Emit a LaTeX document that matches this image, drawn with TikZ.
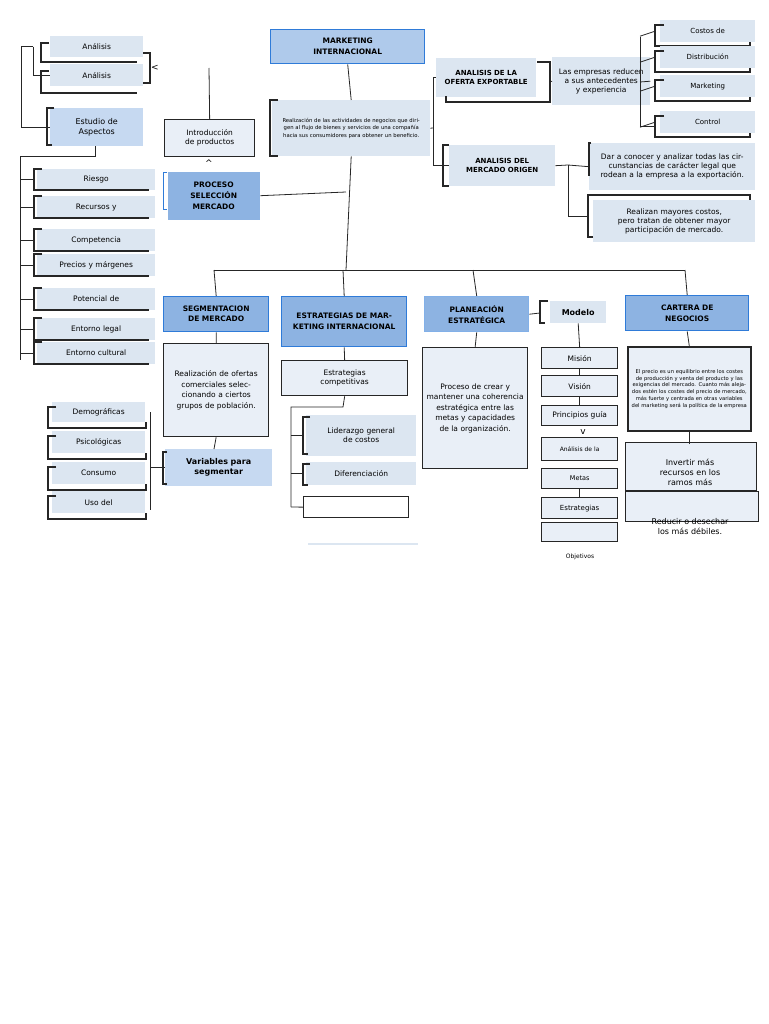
\documentclass[tikz,border=0pt]{standalone}
\usepackage{fontspec}
\setmainfont{DejaVu Sans}
\definecolor{lb}{HTML}{DCE6F1}
\definecolor{lb2}{HTML}{C6D9F1}
\definecolor{mb}{HTML}{8DB3E2}
\definecolor{bb}{HTML}{2F7BD8}
\definecolor{wb}{HTML}{E9EFF7}
\tikzset{
 lbox/.style={fill=lb,font=\fontsize{7.5}{9}\selectfont},
 lbox2/.style={fill=lb2,font=\fontsize{8}{10}\selectfont},
 mbox/.style={fill=mb,draw=bb,line width=1.4pt,font=\fontsize{7.5}{10}\selectfont\bfseries},
 wbox/.style={fill=wb,draw=black!85,line width=1.3pt,font=\fontsize{7.5}{9}\selectfont},
 ebox/.style={fill=white,draw=black!85,line width=1.3pt},
 ln/.style={draw=black!85,line width=0.8pt},
 br/.style={draw=black!85,line width=1.3pt}
}
\newcommand\B[7]{\pgfmathsetmacro\bw{#5-#3}\pgfmathsetmacro\bh{#6-#4}\pgfmathsetmacro\tw{#5-#3-6}%
\node[#1,anchor=north west,minimum width=\bw pt,minimum height=\bh pt,text width=\tw pt,inner xsep=3pt,inner ysep=1pt,align=center] (#2) at (#3,#4) {#7};}
\newcommand\Lb[4]{\draw[br] (#1+8,#2)--(#1,#2)--(#1,#4)--(#3,#4);}
\begin{document}
\begin{tikzpicture}[x=1pt,y=-1pt]
\useasboundingbox (0,0) rectangle (768,1024);
% top centre
\B{mbox,fill=mb!70,font=\fontsize{7.5}{11}\selectfont\bfseries}{mi}{270}{29}{424}{63}{MARKETING\\INTERNACIONAL}
\B{lbox,align=justify,font=\fontsize{5.3}{7.5}\selectfont}{def}{272}{100}{430}{156}{Realización de las actividades de negocios que dirigen al flujo de bienes y servicios de una compañía hacia sus consumidores para obtener un beneficio.}
\draw[br] (278,100)--(270,100)--(270,156)--(278,156);
% left
\B{lbox}{an1}{50}{36}{143}{57}{Análisis}
\B{lbox}{an2}{50}{64}{143}{86}{Análisis}
\Lb{41}{43}{137}{62}\Lb{41}{71}{137}{93}
\draw[br] (143,53)--(150,53)--(150,83)--(143,83);
\node[font=\fontsize{9}{9}\selectfont] (lt) at (155,68) {<};
\B{lbox2}{est}{50}{108}{143}{146}{Estudio de\\Aspectos}
\draw[br] (54,108)--(47,108)--(47,145)--(52,145);
\draw[ln] (an1.west)++(-17,0) coordinate (t1) -- ++(-12,0) |- (est.west);
\draw[ln] (t1) |- (an2.west);
\foreach \n/\t/\ya/\yb in {ri/Riesgo/169/190,re/Recursos y/196/218,co/Competencia/229/251,pr/Precios y márgenes/254/276,po/Potencial de/288/310,el/Entorno legal/318/340,ec/Entorno cultural/342/364}{
 \B{lbox}{\n}{37}{\ya}{155}{\yb}{\t}
 \Lb{34}{\ya}{149}{\yb}
}
\draw[ln] (est.south)++(-1,0) -- ++(0,10) -| (20,360);
\foreach \n in {ri,re,co,pr,po,el,ec}{\draw[ln] (20,0 |- \n.west) -- (34,0 |- \n.west);}
% intro / proceso
\B{wbox}{intro}{164}{119}{254}{156}{Introducción\\de productos}
\coordinate (itop) at (209,68);
\draw[ln] (itop) -- (intro.north);
\node[font=\fontsize{9}{9}\selectfont] (car) at (209,163) {\^{}};
\B{mbox,draw=none,font=\fontsize{7.5}{11}\selectfont\bfseries}{proc}{167}{171}{259}{219}{PROCESO\\SELECCIÓN\\MERCADO}
\draw[bb,line width=1pt] (167,173)--(163,173)--(163,210)--(167,210);
% main trunk
\coordinate (bus) at (346,270);
\draw[ln] (mi.south) -- (def.north);
\draw[ln] (def.south) -- (bus);
\draw[ln] (proc.east) -- (346,192);
% right top
\B{lbox,font=\fontsize{7}{9}\selectfont\bfseries}{aoe}{436}{58}{536}{97}{ANALISIS DE LA OFERTA EXPORTABLE}
\draw[br] (537,62)--(550,62)--(550,102)--(446,102)--(446,96);
\B{lbox,font=\fontsize{7}{9}\selectfont\bfseries,align=left}{amo}{449}{145}{555}{186}{ANALISIS DEL\\MERCADO ORIGEN\\[8pt]}
\draw[br] (449,145)--(443,145)--(443,186)--(449,186);
\draw[ln] (def.east) -- (433,128) coordinate (j1);
\draw[ln] (j1) |- (aoe.west);
\draw[ln] (j1) |- (amo.west);
\B{lbox}{emp}{552}{57}{650}{105}{Las empresas reducen a sus antecedentes y experiencia}
\draw[ln] (550,82) -- (emp.west);
\foreach \n/\t/\ya/\yb in {cd/Costos de/20/42,di/Distribución/46/68,mk/Marketing/75/97,ct/Control/111/133}{
 \B{lbox,font=\fontsize{7}{9}\selectfont}{\n}{660}{\ya}{755}{\yb}{\t\\[2pt]}
 \draw[br] (664,\ya+5)--(655,\ya+5)--(655,\yb+4)--(750,\yb+4)--(750,\yb);
}
\draw[ln] (emp.east) -- (640,82) coordinate (j2);
\foreach \n in {cd,di,mk,ct}{\draw[ln] (640,0 |- \n.west)++(0,5) -- (655,0 |- \n.west);}
\draw[ln] (640,37) -- (640,126) -- (655,126);
\B{lbox,align=left}{dar}{589}{143}{755}{190}{Dar a conocer y analizar todas las circunstancias de carácter legal que rodean a la empresa a la exportación.}
\draw[br] (591,143)--(589,143)--(589,176);
\B{lbox}{rea}{593}{200}{755}{242}{Realizan mayores costos, pero tratan de obtener mayor participación de mercado.}
\draw[br] (593,237)--(588,237)--(588,195)--(750,195)--(750,200);
\draw[ln] (amo.east) -- (568,165) coordinate (j3) -- (dar.west);
\draw[ln] (j3) |- (588,216);
% bus
\draw[ln] (214,270) -- (685,270);
\B{mbox}{seg}{163}{296}{268}{331}{SEGMENTACION\\DE MERCADO}
\B{mbox,font=\fontsize{7.5}{11}\selectfont\bfseries}{emi}{281}{296}{406}{346}{ESTRATEGIAS DE MARKETING INTERNACIONAL}
\B{mbox,draw=bb!60,font=\fontsize{7.5}{11}\selectfont\bfseries}{pla}{424}{296}{528}{331}{PLANEACIÓN\\ESTRATÉGICA}
\B{mbox,font=\fontsize{7.5}{11}\selectfont\bfseries}{car2}{625}{295}{748}{330}{CARTERA DE\\NEGOCIOS}
\draw[ln] (214,270) -- (seg.north);
\draw[ln] (343,270) -- (emi.north);
\draw[ln] (473,270) -- (pla.north);
\draw[ln] (685,270) -- (car2.north);
% segmentacion column
\B{wbox,align=justify,font=\fontsize{7.5}{10.5}\selectfont}{rof}{163}{343}{268}{436}{Realización de ofertas comerciales seleccionando a ciertos grupos de población.\par\vspace{14pt}}
\draw[ln] (seg.south) -- (rof.north);
\B{lbox2,font=\fontsize{8}{10}\selectfont\bfseries}{var}{165}{449}{272}{486}{Variables para segmentar}
\draw[br] (167,452)--(163,452)--(163,484)--(167,484);
\draw[ln] (rof.south) -- (214,449);
\foreach \n/\t/\ya/\yb in {dem/Demográficas/402/422,psi/Psicológicas/431/453,cons/Consumo/462/484,uso/Uso del/491/513}{
 \B{lbox}{\n}{52}{\ya}{145}{\yb}{\t\\[3pt]}
 \draw[br] (56,\ya+5)--(48,\ya+5)--(48,\yb+6)--(146,\yb+6)--(146,\yb);
}
\draw[ln] (150,412) -- (150,510);
\draw[ln] (150,0 |- var.west) -- (var.west);
% estrategias column
\B{wbox}{ecp}{281}{360}{407}{395}{Estrategias\\competitivas}
\draw[ln] (emi.south) -- (ecp.north);
\B{lbox}{lid}{306}{415}{416}{456}{Liderazgo general\\de costos}
\draw[br] (310,417)--(303,417)--(303,454)--(308,454);
\B{lbox}{dif}{306}{462}{416}{485}{Diferenciación}
\draw[br] (310,464)--(303,464)--(303,485)--(308,485);
\B{ebox}{emp2}{303}{496}{408}{517}{}
\draw[ln] (ecp.south) -- (343,407) -- (291,407) coordinate (j4) -- (291,507);
\draw[ln] (291,0 |- lid.west) -- (303,0 |- lid.west);
\draw[ln] (291,0 |- dif.west) -- (303,0 |- dif.west);
\draw[ln] (291,507) -- (emp2.west);
\draw[lb,line width=1.5pt] (308,544) -- (418,544);
% planeacion column
\B{wbox,align=justify,font=\fontsize{7.5}{10.5}\selectfont}{pcr}{422}{347}{527}{468}{Proceso de crear y mantener una coherencia estratégica entre las metas y capacidades de la organización.\par\vspace{20pt}}
\draw[ln] (pla.south) -- (pcr.north);
\B{lbox,font=\fontsize{8}{10}\selectfont\bfseries}{mod}{550}{301}{606}{323}{Modelo}
\draw[br] (548,301)--(540,301)--(540,323)--(545,323);
\draw[ln] (pla.east) -- (540,313);
\foreach \n/\t/\ya/\yb/\fs in {mis/Misión/347/368/7.5,vis/Visión/375/396/7.5,pri/Principios guía/405/425/7.5,ana/Análisis de la/437/460/6,met/Metas/468/488/6.5,estg/Estrategias/497/518/7,vac/{}/522/541/7}{
 \B{wbox,font=\fontsize{\fs}{9}\selectfont}{\n}{541}{\ya}{617}{\yb}{\t}
}
\node[font=\fontsize{6.5}{8}\selectfont] at (579,450) {\phantom{x}};
\draw[ln] (mod.south) -- (mis.north);
\draw[ln] (mis.south) -- (vis.north);
\draw[ln] (vis.south) -- (pri.north);
\draw[ln] (met.south) -- (estg.north);
\node[font=\fontsize{9}{9}\selectfont] (vv) at (583,432) {v};
\node[font=\fontsize{6}{8}\selectfont] (obj) at (580,557) {Objetivos};
% cartera column
\B{wbox,align=justify,font=\fontsize{5.2}{6.8}\selectfont,line width=1.6pt}{pre}{627}{346}{750}{430}{El precio es un equilibrio entre los costes de producción y venta del producto y las exigencias del mercado. Cuanto más alejados estén los costes del precio de mercado, más fuerte y centrada en otras variables del marketing será la política de la empresa}
\draw[ln] (car2.south) -- (pre.north);
\B{wbox}{inv}{625}{442}{756}{490}{}
\B{wbox}{red}{625}{491}{758}{521}{}
\draw[ln] (pre.south)++(0,0) -- ++(0,12);
\node[font=\fontsize{8}{10}\selectfont,align=center] (invt) at (690,472) {Invertir más\\recursos en los\\ramos más};
\node[font=\fontsize{8}{10}\selectfont,align=center] (redt) at (690,527) {Reducir o desechar\\los más débiles.};
\end{tikzpicture}
\end{document}
